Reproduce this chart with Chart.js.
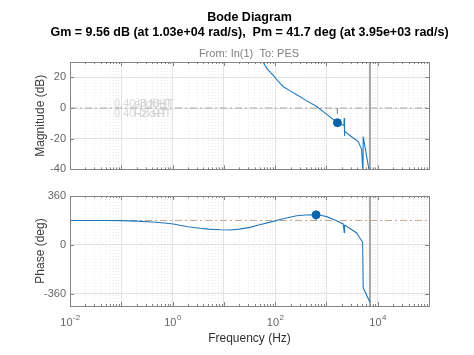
<!DOCTYPE html>
<html><head><meta charset="utf-8">
<script src="https://cdn.jsdelivr.net/npm/chart.js@4/dist/chart.umd.min.js"></script>
<style>
html,body{margin:0;padding:0;background:#fff;width:474px;height:355px;overflow:hidden}
canvas{position:absolute;left:0}
#c1{top:0}
#c2{top:180px}
</style></head><body>
<canvas id="c1" width="474" height="180"></canvas>
<canvas id="c2" width="474" height="175"></canvas>
<script>
// ---- data ----
const magFreq = [1, 5, 20, 40, 58, 70, 91, 115, 145, 200, 263, 400, 646, 1000, 1639, 2190, 2222, 2225, 2296, 3000, 4169, 4855, 5080, 5150, 5215, 6826, 7050];
const magDb   = [95, 70, 48, 36, 29.8, 25.5, 21.5, 17.3, 13.9, 11.0, 8.6, 5.0, 1.0, -4.0, -9.6, -11.4, -6.5, -18.3, -15.1, -18.4, -21.9, -26.9, -39.8, -48, -18.7, -41, -55];
const phaseFreq = [0.01, 0.05, 0.1, 0.2, 0.4, 0.7, 1.03, 2, 3.42, 5, 8.4, 13.2, 20, 32.3, 50, 91.9, 150, 262, 400, 628.7, 800, 1009, 1500, 2125, 2222, 2225, 2300, 3882, 5080, 5215, 7050];
const phaseDeg  = [180, 179.5, 178.5, 175, 168, 161, 154, 134, 122, 116, 111, 110, 116, 129, 148, 173, 194, 215, 220, 221.7, 216, 208, 182, 154, 92, 149, 146, 88, 19, -316, -422];
const magTicks = [-40, -20, 0, 20];
const phaseTicks = [-360, 0, 360];
const decadeExps = [-2, 0, 2, 4];
const gmFreq = 1639, gmDb = -9.56;
const pmFreq = 628.7, pmDeg = 221.7;
const nyquistFreq = 7050;
const titleLines = ['Bode Diagram', 'Gm = 9.56 dB (at 1.03e+04 rad/s),  Pm = 41.7 deg (at 3.95e+03 rad/s)'];
const ioLabel = 'From: In(1)  To: PES';

// all log ticks 1..9 x 10^k
const xTickVals = [];
for (let e = -2; e <= 4; e++) for (let m = 1; m <= 9; m++) xTickVals.push(m * Math.pow(10, e));
xTickVals.push(1e5);
const isDecade = v => Math.abs(Math.log10(v) - Math.round(Math.log10(v))) < 1e-9;

const FONT = "'Liberation Sans', Arial, Helvetica, sans-serif";
Chart.defaults.font.family = FONT;
const BOX = '#858585';
const LINE = '#2378b8';
const DOT = '#0a63ad';

function xScale(h, titleOpts) {
  return {
    type: 'logarithmic', min: 0.01, max: 1e5,
    afterBuildTicks: s => { s.ticks = xTickVals.map(v => ({ value: v })); },
    ticks: { display: false },
    grid: {
      color: c => (c.tick && isDecade(c.tick.value)) ? '#e2e2e2' : '#e8e8e8',
      drawTicks: false
    },
    border: { display: false, dash: c => (c.tick && !isDecade(c.tick.value)) ? [1, 2] : [] },
    title: titleOpts || { display: false },
    afterFit: s => { s.height = h; }
  };
}
function yScale(min, max, vals, label) {
  return {
    type: 'linear', min: min, max: max,
    afterBuildTicks: s => { s.ticks = vals.map(v => ({ value: v })); },
    ticks: { color: '#666666', font: { size: 11 }, padding: 4, callback: v => String(v) },
    grid: { color: '#e2e2e2', drawTicks: false },
    border: { display: false },
    title: { display: true, text: label, color: '#404040', font: { size: 12 }, padding: { top: 3, bottom: 0 } },
    afterFit: s => { s.width = 40; }
  };
}

const boxPlugin = {
  id: 'boxTicks',
  afterDraw(chart) {
    const { ctx, chartArea: a, scales } = chart;
    ctx.save();
    ctx.strokeStyle = BOX; ctx.lineWidth = 1;
    ctx.strokeRect(Math.round(a.left) + 0.5, Math.round(a.top) + 0.5, Math.round(a.right - a.left), Math.round(a.bottom - a.top));
    ctx.beginPath();
    xTickVals.forEach(v => {
      const x = Math.round(scales.x.getPixelForValue(v)) + 0.5;
      const len = isDecade(v) ? 4 : 2;
      ctx.moveTo(x, a.top); ctx.lineTo(x, a.top + len);
      ctx.moveTo(x, a.bottom); ctx.lineTo(x, a.bottom - len);
    });
    scales.y.ticks.forEach(t => {
      const y = Math.round(scales.y.getPixelForValue(t.value)) + 0.5;
      ctx.moveTo(a.left, y); ctx.lineTo(a.left + 4, y);
      ctx.moveTo(a.right, y); ctx.lineTo(a.right - 4, y);
    });
    ctx.stroke();
    ctx.restore();
  }
};

const commonOpts = {
  responsive: false, animation: false, devicePixelRatio: 1,
  plugins: { legend: { display: false }, tooltip: { enabled: false } },
  elements: { point: { radius: 0 }, line: { tension: 0 } }
};

// ---- magnitude chart ----
new Chart(document.getElementById('c1'), {
  type: 'line',
  data: {
    datasets: [
      { data: [{ x: gmFreq, y: gmDb }], showLine: false, pointRadius: 4, pointBackgroundColor: DOT, pointBorderColor: DOT },
      { data: magFreq.map((f, i) => ({ x: f, y: magDb[i] })), borderColor: LINE, borderWidth: 1.1 },
      { data: [{ x: gmFreq, y: 0 }, { x: gmFreq, y: -3.5 }], borderColor: '#8a8a8a', borderWidth: 1 },
      { data: [{ x: nyquistFreq, y: -40 }, { x: nyquistFreq, y: 30 }], borderColor: '#a5a5a5', borderWidth: 2 },
      { data: [{ x: 0.01, y: 0 }, { x: 1e5, y: 0 }], borderColor: '#a8a8a8', borderWidth: 1, borderDash: [7, 3, 2, 3] }
    ]
  },
  options: Object.assign({}, commonOpts, {
    layout: { padding: { left: 30, right: 45, top: 62, bottom: 9 } },
    scales: { x: xScale(0), y: yScale(-40, 30, magTicks, 'Magnitude (dB)') }
  }),
  plugins: [boxPlugin, {
    id: 'titles',
    afterDraw(chart) {
      const ctx = chart.ctx;
      ctx.save();
      ctx.textAlign = 'center'; ctx.textBaseline = 'middle';
      ctx.fillStyle = '#000';
      ctx.font = 'bold 12.5px ' + FONT;
      ctx.fillText(titleLines[0], 249.5, 17.5);
      ctx.fillText(titleLines[1], 249.5, 32.7);
      ctx.font = '11px ' + FONT;
      ctx.fillStyle = '#808080';
      ctx.fillText(ioLabel, 249, 53.5);
      // faint overlapping annotation ghost text
      ctx.textAlign = 'left';
      ctx.fillStyle = 'rgba(205,205,205,0.8)';
      ctx.font = '11px ' + FONT;
      ctx.fillText('0.40', 114, 104); ctx.fillText('dB', 134, 104); ctx.fillText('-3dBHT', 136, 104); ctx.fillText('KHT', 150, 104);
      ctx.fillText('0.40', 114, 114); ctx.fillText('Hz', 134, 114); ctx.fillText('-2kHT', 137, 114); ctx.fillText('sHT', 151, 114);
      ctx.restore();
    }
  }]
});

// ---- phase chart ----
new Chart(document.getElementById('c2'), {
  type: 'line',
  data: {
    datasets: [
      { data: [{ x: pmFreq, y: pmDeg }], showLine: false, pointRadius: 4, pointBackgroundColor: DOT, pointBorderColor: DOT },
      { data: phaseFreq.map((f, i) => ({ x: f, y: phaseDeg[i] })), borderColor: LINE, borderWidth: 1.1 },
      { data: [{ x: pmFreq, y: 180 }, { x: pmFreq, y: pmDeg }], borderColor: '#4a6a8a', borderWidth: 1 },
      { data: [{ x: nyquistFreq, y: -450 }, { x: nyquistFreq, y: 360 }], borderColor: '#a5a5a5', borderWidth: 2 },
      { data: [{ x: 0.01, y: 180 }, { x: 1e5, y: 180 }], borderColor: '#c9a592', borderWidth: 1, borderDash: [7, 3, 2, 3] }
    ]
  },
  options: Object.assign({}, commonOpts, {
    layout: { padding: { left: 30, right: 45, top: 16, bottom: 0 } },
    scales: {
      x: xScale(49, { display: true, text: 'Frequency (Hz)', color: '#303030', font: { size: 12 }, padding: { top: 0, bottom: 9 } }),
      y: yScale(-450, 360, phaseTicks, 'Phase (deg)')
    }
  }),
  plugins: [boxPlugin, {
    id: 'xlabels',
    afterDraw(chart) {
      const { ctx, chartArea: a, scales } = chart;
      ctx.save();
      ctx.fillStyle = '#666666';
      ctx.textBaseline = 'alphabetic';
      decadeExps.forEach(e => {
        const x = scales.x.getPixelForValue(Math.pow(10, e));
        ctx.font = '11px ' + FONT;
        const w1 = ctx.measureText('10').width;
        ctx.font = '8px ' + FONT;
        const w2 = ctx.measureText(String(e)).width;
        const x0 = x - (w1 + w2) / 2;
        ctx.font = '11px ' + FONT;
        ctx.textAlign = 'left';
        ctx.fillText('10', x0, a.bottom + 20);
        ctx.font = '8px ' + FONT;
        ctx.fillText(String(e), x0 + w1 + 0.5, a.bottom + 14);
      });
      ctx.restore();
    }
  }]
});
</script>
</body></html>
